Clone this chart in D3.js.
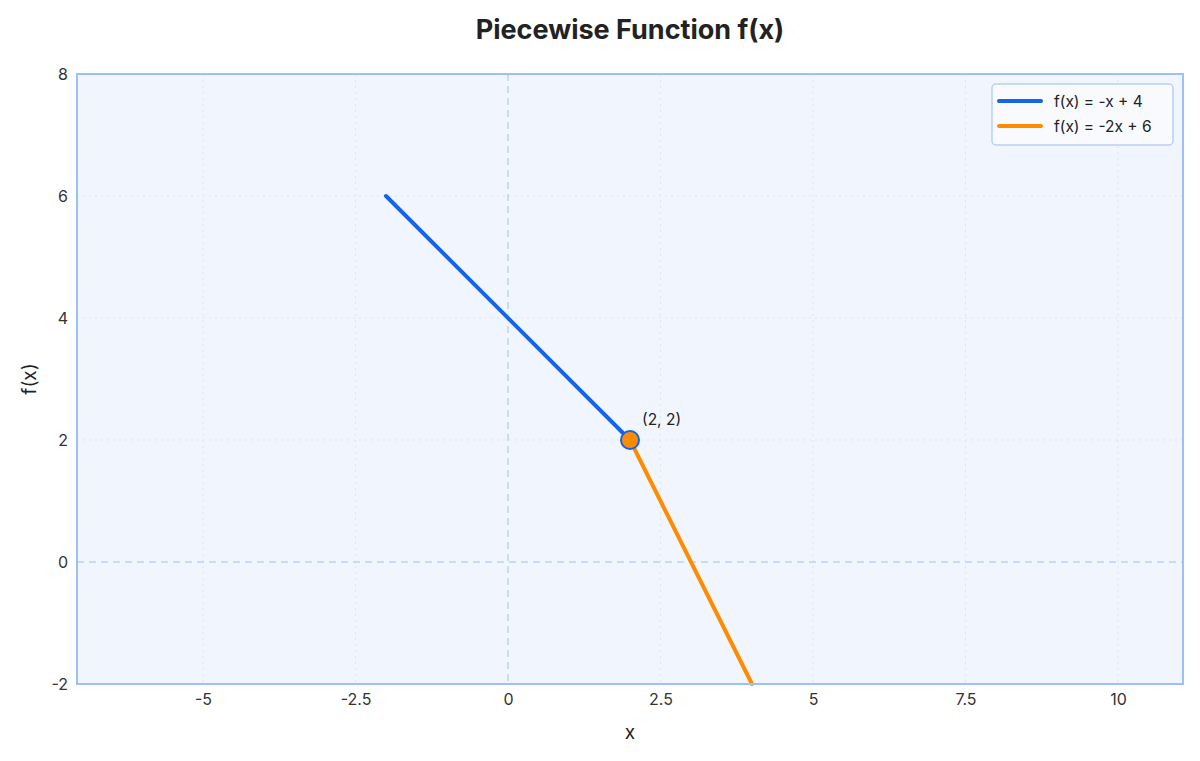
<!DOCTYPE html>
<html>
<head>
<meta charset="utf-8">
<script src="https://cdn.jsdelivr.net/npm/d3@7"></script>
<style>
  body { margin: 0; background: #fff; }
  svg text { font-family: Inter, "Open Sans", sans-serif; }
</style>
</head>
<body>
<svg id="chart"></svg>
<script>
// piecewise pieces: x ranges and their y values
var piece1X = [-2, 2];
var piece1Y = [6, 2];
var piece2X = [2, 4];
var piece2Y = [2, -2];
var pointXY = [2, 2];
var seriesNames = ["f(x) = -x + 4", "f(x) = -2x + 6"];
var seriesColors = ["#1463e8", "#ff8c00"];
var xTicks = [-5, -2.5, 0, 2.5, 5, 7.5, 10];
var yTicks = [-2, 0, 2, 4, 6, 8];

var width = 1200, height = 761;
var margins = { top: 74, bottom: 77, left: 77, right: 17 };

var svg = d3.select("#chart")
  .attr("width", width)
  .attr("height", height)

var xScale = d3.scaleLinear()
  .domain([-7.066, 11.066])
  .range([margins.left, width - margins.right])

var yScale = d3.scaleLinear()
  .domain([-2, 8])
  .range([height - margins.bottom, margins.top])

// background
svg.append("rect")
  .attr("x", xScale.range()[0])
  .attr("y", yScale.range()[1])
  .attr("width", xScale.range()[1] - xScale.range()[0])
  .attr("height", yScale.range()[0] - yScale.range()[1])
  .attr("fill", "#f1f6fe")

// grid
svg.append("g").selectAll("line")
  .data(xTicks.filter(function(d){return d != 0;}))
  .enter().append("line")
  .attr("x1", function(d){return xScale(d);})
  .attr("x2", function(d){return xScale(d);})
  .attr("y1", yScale.range()[1])
  .attr("y2", yScale.range()[0])
  .attr("stroke", "#dde5f3")
  .attr("stroke-width", 1)
  .attr("stroke-dasharray", "2,4")

svg.append("g").selectAll("line")
  .data(yTicks.filter(function(d){return d != 0 && d != -2 && d != 8;}))
  .enter().append("line")
  .attr("x1", xScale.range()[0])
  .attr("x2", xScale.range()[1])
  .attr("y1", function(d){return yScale(d);})
  .attr("y2", function(d){return yScale(d);})
  .attr("stroke", "#dde5f3")
  .attr("stroke-width", 1)
  .attr("stroke-dasharray", "2,4")

// zero lines
svg.append("line")
  .attr("x1", xScale(0)).attr("x2", xScale(0))
  .attr("y1", yScale.range()[1]).attr("y2", yScale.range()[0])
  .attr("stroke", "#bcd3f5").attr("stroke-width", 1.5)
  .attr("stroke-dasharray", "7,5")

svg.append("line")
  .attr("x1", xScale.range()[0]).attr("x2", xScale.range()[1])
  .attr("y1", yScale(0)).attr("y2", yScale(0))
  .attr("stroke", "#bcd3f5").attr("stroke-width", 1.5)
  .attr("stroke-dasharray", "7,5")

// axes (labels only)
var xAxis = d3.axisBottom(xScale).tickValues(xTicks).tickSize(0).tickPadding(10)
  .tickFormat(function(d){return String(d);})
var yAxis = d3.axisLeft(yScale).tickValues(yTicks).tickSize(0).tickPadding(9)
  .tickFormat(function(d){return String(d);})

svg.append("g")
  .attr("transform", "translate(0," + yScale.range()[0] + ")")
  .call(xAxis)
  .call(function(g){ g.select(".domain").remove(); })
  .selectAll("text")
  .attr("font-size", 16).attr("fill", "#333").attr("font-family", "Inter, sans-serif")

svg.append("g")
  .attr("transform", "translate(" + xScale.range()[0] + ",0)")
  .call(yAxis)
  .call(function(g){ g.select(".domain").remove(); })
  .selectAll("text")
  .attr("font-size", 16).attr("fill", "#333").attr("font-family", "Inter, sans-serif")

// lines
var drawLine = d3.line()
  .x(function(d){return xScale(d[0]);})
  .y(function(d){return yScale(d[1]);})

var pieces = [
  d3.zip(piece1X, piece1Y),
  d3.zip(piece2X, piece2Y)
];

svg.append("g").selectAll("path")
  .data(pieces)
  .enter().append("path")
  .attr("d", drawLine)
  .attr("fill", "none")
  .attr("stroke", function(d,i){return seriesColors[i];})
  .attr("stroke-width", 4)
  .attr("stroke-linecap", "round")

// frame
svg.append("rect")
  .attr("x", xScale.range()[0])
  .attr("y", yScale.range()[1])
  .attr("width", xScale.range()[1] - xScale.range()[0])
  .attr("height", yScale.range()[0] - yScale.range()[1])
  .attr("fill", "none")
  .attr("stroke", "#9ec0f5")
  .attr("stroke-width", 2)

// point
svg.append("circle")
  .attr("cx", xScale(pointXY[0]))
  .attr("cy", yScale(pointXY[1]))
  .attr("r", 9)
  .attr("fill", "#ff8c00")
  .attr("stroke", "#1463e8")
  .attr("stroke-width", 2)

svg.append("text")
  .attr("x", xScale(pointXY[0]) + 12)
  .attr("y", yScale(pointXY[1]) - 15)
  .attr("font-size", 15.5)
  .attr("fill", "#222")
  .text("(" + pointXY[0] + ", " + pointXY[1] + ")")

// legend
var legend = svg.append("g")
legend.append("rect")
  .attr("x", 992).attr("y", 84)
  .attr("width", 181).attr("height", 61)
  .attr("rx", 4)
  .attr("fill", "#f8fafe")
  .attr("stroke", "#b8d0f5")
  .attr("stroke-width", 1.5)

var items = legend.selectAll("g.item")
  .data(seriesNames)
  .enter().append("g")
  .attr("class", "item")
  .attr("transform", function(d,i){return "translate(999," + (101 + i*25) + ")";})

items.append("line")
  .attr("x1", 0).attr("x2", 42)
  .attr("stroke", function(d,i){return seriesColors[i];})
  .attr("stroke-width", 4)
  .attr("stroke-linecap", "round")

items.append("text")
  .attr("x", 55).attr("y", 5.5)
  .attr("font-size", 15.5)
  .attr("fill", "#222")
  .text(function(d){return d;})

// titles
svg.append("text")
  .attr("x", (xScale.range()[0] + xScale.range()[1]) / 2)
  .attr("y", 39)
  .attr("text-anchor", "middle")
  .attr("font-size", 27)
  .attr("font-weight", "bold")
  .attr("fill", "#222")
  .text("Piecewise Function f(x)")

svg.append("text")
  .attr("x", (xScale.range()[0] + xScale.range()[1]) / 2)
  .attr("y", 739)
  .attr("text-anchor", "middle")
  .attr("font-size", 19)
  .attr("fill", "#222")
  .text("x")

svg.append("text")
  .attr("transform", "translate(36," + ((yScale.range()[0] + yScale.range()[1]) / 2) + ") rotate(-90)")
  .attr("text-anchor", "middle")
  .attr("font-size", 19)
  .attr("fill", "#222")
  .text("f(x)")
</script>
</body>
</html>
